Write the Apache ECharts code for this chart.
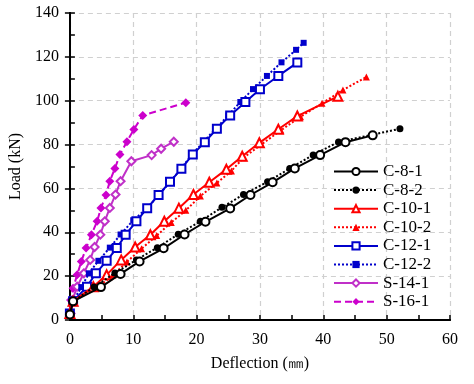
<!DOCTYPE html>
<html><head><meta charset="utf-8">
<script src="https://cdn.jsdelivr.net/npm/echarts@6/dist/echarts.min.js"></script>
<style>html,body{margin:0;padding:0;background:#fff}#c{width:474px;height:384px}</style>
</head><body><div id="c"></div>
<script>
var seriesNames = ['C-8-1','C-8-2','C-10-1','C-10-2','C-12-1','C-12-2','S-14-1','S-16-1'];
var c81 = [[0,2.5],[0.5,8.5],[4.9,15],[8,21],[11,26.7],[14.8,32.7],[18.1,39],[21.4,44.8],[25.3,50.9],[28.5,57],[32,62.8],[35.5,69.1],[39.5,75.2],[43.5,81.1],[47.8,84.2]];
var c82 = [[0,2.5],[0.5,8.5],[3.8,15],[7.1,21.4],[10.5,27.4],[13.8,33],[17.1,39.1],[20.6,45],[24,51.4],[27.4,57.2],[31.2,63],[34.7,69.1],[38.4,75.3],[42.4,81.2],[52.1,87.2]];
var c101 = [[0,3],[0.5,8.5],[3.7,15.2],[5.8,20.6],[8.1,27.4],[10.3,33.3],[12.7,38.9],[14.9,45],[17.2,51],[19.5,57.2],[22,62.8],[24.7,68.7],[27.2,74.7],[29.9,80.8],[32.9,87],[35.9,93],[42.3,102]];
var c102 = [[0,3],[0.5,8.5],[4.5,15],[6.8,20.5],[9,26.5],[11.3,32.5],[13.7,38.5],[16,44.5],[18.3,50],[20.6,56.5],[23.2,62.5],[25.5,68],[27.4,74],[30.2,80],[33.3,86.5],[36.4,92.7],[39.8,98.8],[43.1,104.9],[46.8,110.8]];
var c121 = [[0,3],[0.5,8.5],[2.7,15.2],[4.1,21.3],[5.8,27],[7.4,32.8],[8.8,38.9],[10.5,45],[12.2,51],[14,57],[15.8,63],[17.6,69],[19.4,75.5],[21.3,81.1],[23.2,87.2],[25.3,93.3],[27.7,99.4],[30,105.2],[32.9,111.3],[35.9,117.4]];
var c122 = [[0,3],[0.5,8.5],[1.8,15],[3,21.3],[4.5,27],[6.3,33],[8,39],[10,45.5],[12.2,51],[14.1,57.2],[15.8,62.8],[17.5,69],[19.3,75.5],[21.1,81.3],[23,87.2],[25,93.3],[26.9,99.4],[28.9,105.3],[31.1,111.3],[33.4,117.5],[35.7,123.2],[36.9,126.4]];
var s141 = [[0.1,3],[0.4,9.1],[1.15,15.2],[2.2,21.3],[3.2,27.4],[3.9,33.3],[4.8,38.9],[5.5,45],[6.3,51.1],[7.2,57.2],[8,63.3],[9.7,72.4],[12.9,75.2],[14.4,78.1],[16.4,81.3]];
var s161 = [[0,2.7],[0.1,9.1],[0.5,14.5],[1.15,20.6],[1.8,26.7],[2.55,32.8],[3.4,38.9],[4.3,45],[4.9,51.1],[5.7,57],[6.3,63.3],[7.1,69.1],[7.9,75.5],[9,81.3],[10.1,86.9],[11.5,93.3],[18.3,99.1]];
var seriesData = [c81,c82,c101,c102,c121,c122,s141,s161];
var xTicks = [0,10,20,30,40,50,60];
var yTicks = [0,20,40,60,80,100,120,140];

var colors = ['#000000','#000000','#ff0000','#ff0000','#0000cc','#0000cc','#c030c8','#cc00cc'];
var symbols = ['emptyCircle','circle','emptyTriangle','triangle','emptyRect','rect','emptyDiamond','diamond'];
var sizes = [8,7,9,7,8,6,8,9];
var lineTypes = ['solid','dotted','solid','dotted','solid','dotted','solid',[7,4]];
var FONT = '"Liberation Serif", "Times New Roman", serif';

var chart = echarts.init(document.getElementById('c'), null, {renderer:'canvas'});
var series = seriesNames.map(function(n,i){
  return {
    name:n, type:'line', data:seriesData[i], symbol:symbols[i], symbolSize:sizes[i],
    showAllSymbol:true,
    lineStyle:{color:colors[i], width:2, type:lineTypes[i]},
    itemStyle:{color:colors[i], borderColor:colors[i], borderWidth:symbols[i].indexOf('empty')===0?1.6:0},
    emphasis:{disabled:true}, animation:false, z: 10-i
  };
});
var axisCommon = {
  axisLine:{show:true, onZero:false, lineStyle:{color:'#000', width:2}},
  axisLabel:{color:'#000', fontFamily:FONT, fontSize:16},
  nameTextStyle:{color:'#000', fontFamily:FONT, fontSize:16}
};
chart.setOption({
  backgroundColor:'#fff',
  animation:false,
  grid:{left:64, right:24, top:13, bottom:64, containLabel:false},
  legend:{
    orient:'vertical', left:333, top:163, itemWidth:44, itemHeight:9, itemGap:1.6,
    textStyle:{color:'#000', fontFamily:FONT, fontSize:17, lineHeight:14, padding:[0,0,0,0]},
    data:seriesNames, selectedMode:false, padding:0
  },
  xAxis:[
    Object.assign({}, axisCommon, {
      type:'value', min:xTicks[0], max:xTicks[xTicks.length-1], interval:10,
      name:'Deflection (㎜)', nameLocation:'middle', nameGap:36,
      axisTick:{show:true, inside:true, length:5, lineStyle:{color:'#000', width:1.5}},
      minorTick:{show:true, splitNumber:2, length:5, lineStyle:{color:'#000', width:1.5}},
      axisLabel:{color:'#000', fontFamily:FONT, fontSize:16, margin:12},
      splitLine:{show:true, lineStyle:{color:'#d0d0d0', type:[5,4], width:1.2}}
    }),
    {type:'value', position:'top', min:0, max:60, axisLine:{show:true, lineStyle:{color:'#000', width:2}}, axisTick:{show:false}, axisLabel:{show:false}, splitLine:{show:false}}
  ],
  yAxis:[
    Object.assign({}, axisCommon, {
      type:'value', min:yTicks[0], max:yTicks[yTicks.length-1], interval:20,
      name:'Load (kN)', nameLocation:'middle', nameGap:40, nameRotate:90,
      axisTick:{show:true, inside:true, length:5, lineStyle:{color:'#000', width:1.5}},
      minorTick:{show:true, splitNumber:2, length:5, lineStyle:{color:'#000', width:1.5}},
      axisLabel:{color:'#000', fontFamily:FONT, fontSize:16, margin:11},
      splitLine:{show:true, lineStyle:{color:'#d0d0d0', type:[5,4], width:1.2}}
    }),
    {type:'value', position:'right', min:0, max:140, interval:20, axisLine:{show:true, lineStyle:{color:'#000', width:2}}, axisTick:{show:true, inside:true, length:5, lineStyle:{color:'#000', width:1.5}}, axisLabel:{show:false}, splitLine:{show:false}}
  ],
  series:series
});
</script></body></html>
